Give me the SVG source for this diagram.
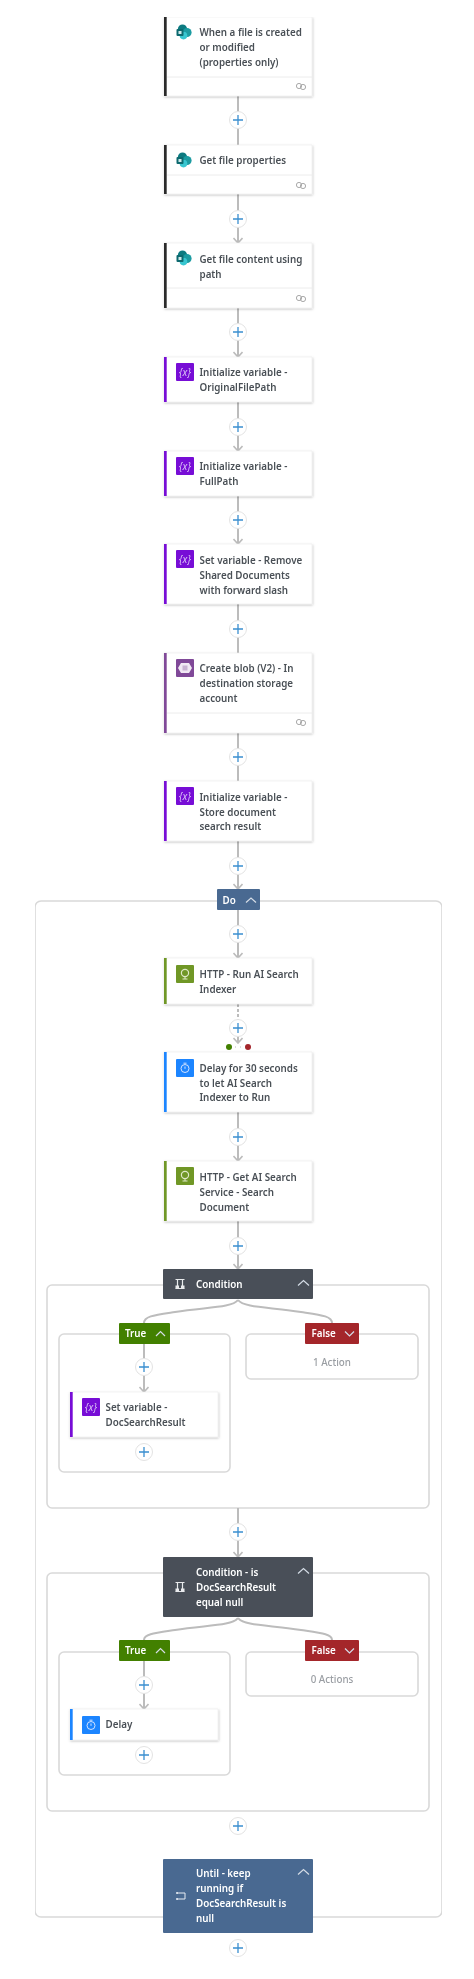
<svg xmlns="http://www.w3.org/2000/svg" xmlns:xlink="http://www.w3.org/1999/xlink" width="474" height="1979" viewBox="0 0 474 1979">
<style>
text{font-family:"Noto Sans","Open Sans","Liberation Sans",sans-serif;font-size:9.8px;font-weight:600;fill:#4a5056}
.gray{fill:#9a9ea3;font-weight:500}
.card{fill:#fff;stroke:#ececec;stroke-width:.6;filter:url(#sh)}
.foot{stroke:#ececec;stroke-width:1}
.box{fill:#fff;stroke:#d9d9d9;stroke-width:1.6}
.ln{stroke:#bcbcbc;stroke-width:2;fill:none}
.ar{marker-end:url(#arr)}
.chev{fill:none;stroke:#d5dce6;stroke-width:1.2}
.x{fill:#d9c2f5;font-size:10px;font-style:italic;font-weight:400}
</style>
<defs>
<filter id="sh" x="-10%" y="-20%" width="120%" height="150%"><feDropShadow dx="0.5" dy="1" stdDeviation="1.2" flood-color="#000" flood-opacity="0.25"/></filter>
<filter id="soft" x="0" y="0" width="100%" height="100%"><feGaussianBlur stdDeviation="0.4"/></filter>
<marker id="arr" markerUnits="userSpaceOnUse" markerWidth="8" markerHeight="10" viewBox="0 0 8 10" refX="7" refY="5" orient="auto"><path d="M2 .5L7 5L2 9.5" fill="none" stroke="#bcbcbc" stroke-width="1.6"/></marker>
<g id="plus"><circle r="8.5" fill="#fff" stroke="#e3e3e3" stroke-width="1"/><path d="M-5 0H5M0-5V5" stroke="#3b8fd0" stroke-width="1.3"/></g>
<g id="sp"><circle cx="-1.500" cy="-3" r="4.600" fill="#0b7a80"/><circle cx="3" cy="0.500" r="4.600" fill="#1a9ba1"/><circle cx="-0.500" cy="3.600" r="3.800" fill="#37c6d0"/><rect x="-7.500" y="-3" width="7" height="7" rx="1" fill="#0e6a70"/><rect x="-5.500" y="-1" width="3" height="3" fill="#cfe9ea"/></g>
<g id="link"><circle cx="-2" cy="0" r="2.600" fill="none" stroke="#a9a9a9"/><circle cx="2" cy="1" r="2.600" fill="none" stroke="#a9a9a9"/></g>
<g id="var"><rect width="18" height="18" rx="1" fill="#770bd6"/><text class="x" x="9" y="12.500" text-anchor="middle">{x}</text></g>
<g id="http"><rect width="18" height="18" rx="1" fill="#709727"/><circle cx="9" cy="8" r="3.600" fill="none" stroke="#dfe9c8" stroke-width="1.200"/><path d="M9 11.500V14M6.500 14H11.500" stroke="#dfe9c8"/></g>
<g id="clock"><rect width="18" height="18" rx="1" fill="#1f85ff"/><circle cx="9" cy="9.500" r="4" fill="none" stroke="#cfe3ff" stroke-width="1"/><path d="M7.500 4.200H10.500M9 7.500V9.800" stroke="#cfe3ff"/></g>
<g id="cond"><path d="M-4.500-4.500H4.500M-4.500 4.500H4.500M-2.500-4.500V4.500M2.500-4.500V4.500" stroke="#e8eaec" stroke-width="1.200" fill="none"/><rect x="-4.500" y="1.500" width="3.500" height="3" fill="#e8eaec"/><rect x="1" y="1.500" width="3.500" height="3" fill="#e8eaec"/></g>
</defs>
<rect width="474" height="1979" fill="#fff"/>
<g filter="url(#soft)">
<g id="containers">
<rect id="scope-until" class="box" x="35" y="901" width="407" height="1016" rx="6"/>
<rect id="scope-cond1" class="box" x="47" y="1285" width="382" height="223" rx="5"/>
<rect id="scope-cond1-true" class="box" x="59" y="1334" width="171" height="138" rx="5"/>
<rect id="scope-cond1-false" class="box" x="246" y="1334" width="172" height="45" rx="5"/>
<rect id="scope-cond2" class="box" x="47" y="1573" width="382" height="238" rx="5"/>
<rect id="scope-cond2-true" class="box" x="59" y="1652" width="171" height="123" rx="5"/>
<rect id="scope-cond2-false" class="box" x="246" y="1652" width="172" height="44" rx="5"/>
</g>
<g id="connectors">
<path class="ln" d="M238 96V145"/>
<path class="ln ar" d="M238 194V243"/>
<path class="ln ar" d="M238 308V357"/>
<path class="ln ar" d="M238 402V451"/>
<path class="ln ar" d="M238 496V544"/>
<path class="ln" d="M238 604V653"/>
<path class="ln" d="M238 733V781"/>
<path class="ln ar" d="M238 841V889"/>
<path class="ln ar" d="M238 910V958"/>
<path class="ln" stroke-dasharray="3 2" d="M238 1004V1020"/>
<path class="ln ar" d="M238 1036V1043"/>
<path class="ln ar" d="M238 1112V1161"/>
<path class="ln ar" d="M238 1221V1269"/>
<path class="ln" d="M238 1300C232 1308 205 1307 175 1312C155 1315 144 1316 144 1323"/>
<path class="ln" d="M238 1300C244 1308 271 1307 301 1312C321 1315 332 1316 332 1323"/>
<path class="ln ar" d="M144 1344V1392"/>
<path class="ln ar" d="M238 1508V1557"/>
<path class="ln" d="M238 1618C232 1626 205 1625 175 1630C155 1633 144 1634 144 1640"/>
<path class="ln" d="M238 1618C244 1626 271 1625 301 1630C321 1633 332 1634 332 1640"/>
<path class="ln ar" d="M144 1661V1709"/>
<use href="#plus" x="238" y="120"/>
<use href="#plus" x="238" y="219"/>
<use href="#plus" x="238" y="332"/>
<use href="#plus" x="238" y="427"/>
<use href="#plus" x="238" y="520"/>
<use href="#plus" x="238" y="629"/>
<use href="#plus" x="238" y="757"/>
<use href="#plus" x="238" y="866"/>
<use href="#plus" x="238" y="934"/>
<use href="#plus" x="238" y="1028"/>
<circle cx="229" cy="1047" r="3" fill="#428000"/>
<circle cx="248" cy="1047" r="3" fill="#a4262c"/>
<path d="M235 1047h1M240 1047h1" stroke="#bcbcbc"/>
<use href="#plus" x="238" y="1137"/>
<use href="#plus" x="238" y="1246"/>
<use href="#plus" x="144" y="1367"/>
<use href="#plus" x="144" y="1452"/>
<use href="#plus" x="238" y="1532"/>
<use href="#plus" x="144" y="1685"/>
<use href="#plus" x="144" y="1755"/>
<use href="#plus" x="238" y="1826"/>
<use href="#plus" x="238" y="1948"/>
</g>
<g id="n1"><rect class="card" x="164" y="17" width="148" height="79"/><rect x="164" y="17" width="2.700" height="79" fill="#2b2b2b"/><path class="foot" d="M167 77H312"/><use href="#sp" x="184" y="32"/><use href="#link" x="301" y="86"/><text x="199.500" y="36">When a file is created</text><text x="199.500" y="51">or modified</text><text x="199.500" y="66">(properties only)</text></g>
<g id="n2"><rect class="card" x="164" y="145" width="148" height="49"/><rect x="164" y="145" width="2.700" height="49" fill="#2b2b2b"/><path class="foot" d="M167 175H312"/><use href="#sp" x="184" y="160"/><use href="#link" x="301" y="185"/><text x="199.500" y="164">Get file properties</text></g>
<g id="n3"><rect class="card" x="164" y="243" width="148" height="65"/><rect x="164" y="243" width="2.700" height="65" fill="#2b2b2b"/><path class="foot" d="M167 288H312"/><use href="#sp" x="184" y="258"/><use href="#link" x="301" y="298"/><text x="199.500" y="263">Get file content using</text><text x="199.500" y="278">path</text></g>
<g id="n4"><rect class="card" x="164" y="357" width="148" height="45"/><rect x="164" y="357" width="2.700" height="45" fill="#770bd6"/><use href="#var" x="176" y="363"/><text x="199.500" y="376">Initialize variable -</text><text x="199.500" y="391">OriginalFilePath</text></g>
<g id="n5"><rect class="card" x="164" y="451" width="148" height="45"/><rect x="164" y="451" width="2.700" height="45" fill="#770bd6"/><use href="#var" x="176" y="457"/><text x="199.500" y="470">Initialize variable -</text><text x="199.500" y="485">FullPath</text></g>
<g id="n6"><rect class="card" x="164" y="544" width="148" height="60"/><rect x="164" y="544" width="2.700" height="60" fill="#770bd6"/><use href="#var" x="176" y="550"/><text x="199.500" y="564">Set variable - Remove</text><text x="199.500" y="579">Shared Documents</text><text x="199.500" y="594">with forward slash</text></g>
<g id="n7"><rect class="card" x="164" y="653" width="148" height="80"/><rect x="164" y="653" width="2.700" height="80" fill="#804998"/><path class="foot" d="M167 713H312"/><rect x="176" y="659" width="18" height="18" rx="1" fill="#804998"/><path d="M181 663h8l3 5l-3 5h-8l-3-5z" fill="#f1e9f4"/><rect x="182.500" y="665.500" width="5" height="5" fill="#c9b3d3"/><use href="#link" x="301" y="722"/><text x="199.500" y="672">Create blob (V2) - In</text><text x="199.500" y="687">destination storage</text><text x="199.500" y="702">account</text></g>
<g id="n8"><rect class="card" x="164" y="781" width="148" height="60"/><rect x="164" y="781" width="2.700" height="60" fill="#770bd6"/><use href="#var" x="176" y="787"/><text x="199.500" y="801">Initialize variable -</text><text x="199.500" y="816">Store document</text><text x="199.500" y="830">search result</text></g>
<g id="do"><rect x="217" y="889" width="43" height="21" rx="1" fill="#486991"/><text x="222.500" y="904" style="fill:#fff">Do</text><path class="chev" d="M246 902.500L251 898L256 902.500"/></g>
<g id="n9"><rect class="card" x="164" y="958" width="148" height="46"/><rect x="164" y="958" width="2.700" height="46" fill="#709727"/><use href="#http" x="176" y="965"/><text x="199.500" y="978">HTTP - Run AI Search</text><text x="199.500" y="993">Indexer</text></g>
<g id="n10"><rect class="card" x="164" y="1052" width="148" height="60"/><rect x="164" y="1052" width="2.700" height="60" fill="#1f85ff"/><use href="#clock" x="176" y="1059"/><text x="199.500" y="1072">Delay for 30 seconds</text><text x="199.500" y="1087">to let AI Search</text><text x="199.500" y="1101">Indexer to Run</text></g>
<g id="n11"><rect class="card" x="164" y="1161" width="148" height="60"/><rect x="164" y="1161" width="2.700" height="60" fill="#709727"/><use href="#http" x="176" y="1167"/><text x="199.500" y="1181">HTTP - Get AI Search</text><text x="199.500" y="1196">Service - Search</text><text x="199.500" y="1211">Document</text></g>
<g id="cond1"><rect x="163" y="1269" width="150" height="30" rx="1" fill="#484f58"/><use href="#cond" x="180" y="1284"/><text x="196" y="1288" style="fill:#fff">Condition</text><path class="chev" d="M298 1285.500L303.500 1280.500L309 1285.500"/></g>
<g id="cond1-true"><rect x="119" y="1323" width="51" height="21" rx="1" fill="#428000"/><text x="125" y="1337" style="fill:#fff">True</text><path class="chev" d="M156 1336L160.500 1331.500L165 1336"/></g>
<g id="cond1-false"><rect x="305" y="1323" width="54" height="21" rx="1" fill="#a4262c"/><text x="311.500" y="1337" style="fill:#fff">False</text><path class="chev" d="M345 1331.500L349.500 1336L354 1331.500"/><text class="gray" x="332" y="1366" text-anchor="middle">1 Action</text></g>
<g id="n12"><rect class="card" x="70" y="1392" width="148" height="45"/><rect x="70" y="1392" width="2.700" height="45" fill="#770bd6"/><use href="#var" x="82" y="1398"/><text x="105.500" y="1411">Set variable -</text><text x="105.500" y="1426">DocSearchResult</text></g>
<g id="cond2"><rect x="163" y="1557" width="150" height="60" rx="1" fill="#484f58"/><use href="#cond" x="180" y="1587"/><text x="196" y="1576" style="fill:#fff">Condition - is</text><text x="196" y="1591" style="fill:#fff">DocSearchResult</text><text x="196" y="1606" style="fill:#fff">equal null</text><path class="chev" d="M298 1573.500L303.500 1568.500L309 1573.500"/></g>
<g id="cond2-true"><rect x="119" y="1640" width="51" height="21" rx="1" fill="#428000"/><text x="125" y="1654" style="fill:#fff">True</text><path class="chev" d="M156 1653L160.500 1648.500L165 1653"/></g>
<g id="cond2-false"><rect x="305" y="1640" width="54" height="21" rx="1" fill="#a4262c"/><text x="311.500" y="1654" style="fill:#fff">False</text><path class="chev" d="M345 1648.500L349.500 1653L354 1648.500"/><text class="gray" x="332" y="1683" text-anchor="middle">0 Actions</text></g>
<g id="n13"><rect class="card" x="70" y="1709" width="148" height="31"/><rect x="70" y="1709" width="2.700" height="31" fill="#1f85ff"/><use href="#clock" x="82" y="1716"/><text x="105.500" y="1728">Delay</text></g>
<g id="until"><rect x="163" y="1859" width="150" height="74" rx="1" fill="#486991"/><path d="M177 1893H185V1899H177" fill="none" stroke="#e8edf3" stroke-width="1"/><circle cx="177" cy="1893" r="1" fill="#e8edf3"/><circle cx="177" cy="1899" r="1" fill="#e8edf3"/><text x="196" y="1877" style="fill:#fff">Until - keep</text><text x="196" y="1892" style="fill:#fff">running if</text><text x="196" y="1907" style="fill:#fff">DocSearchResult is</text><text x="196" y="1922" style="fill:#fff">null</text><path class="chev" d="M298 1874.500L303.500 1869.500L309 1874.500"/></g>
</g>
</svg>
